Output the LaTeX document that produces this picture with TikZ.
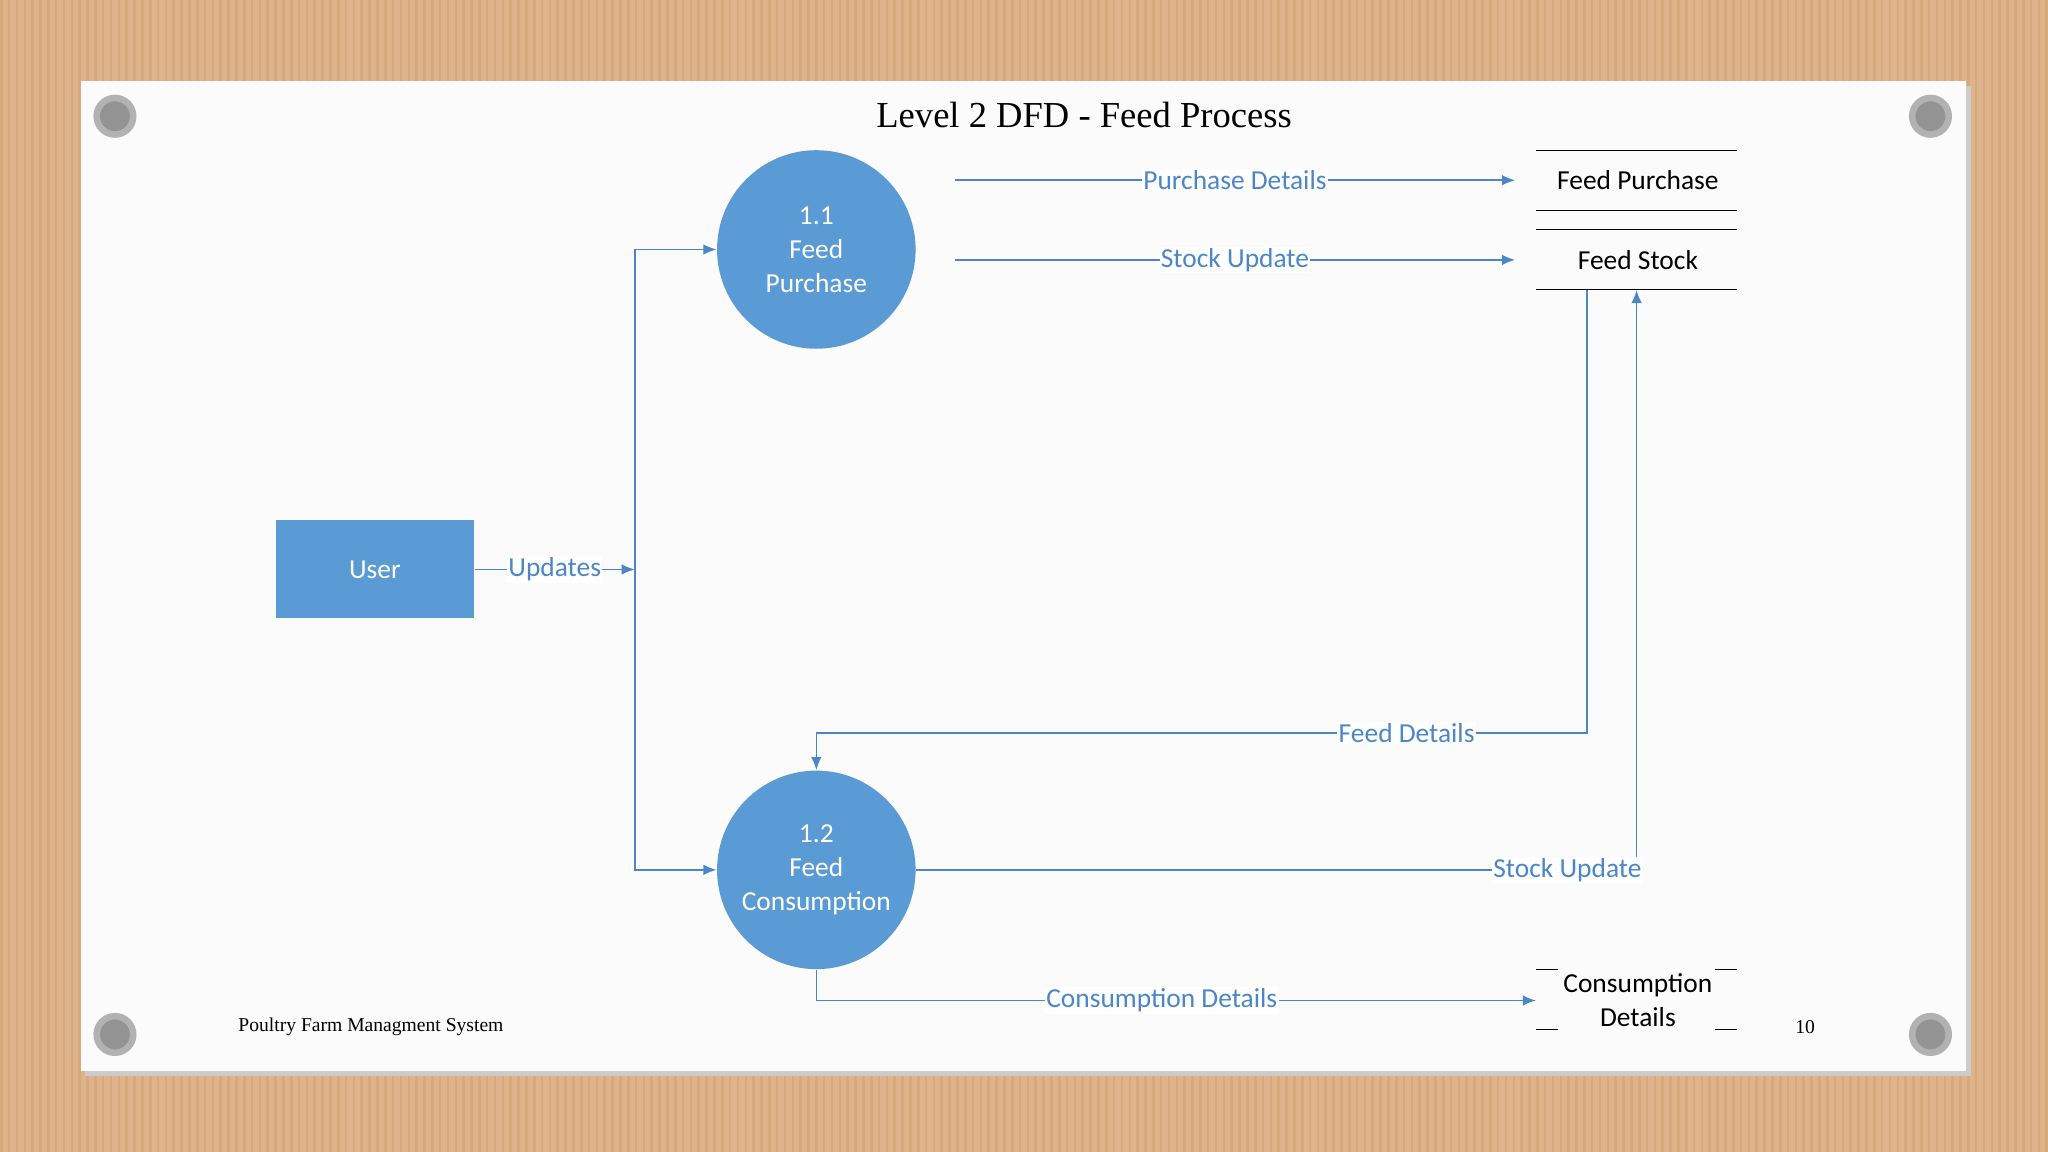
\documentclass[tikz,border=0pt]{standalone}
\usepackage{fontspec}
\setmainfont{Carlito}
\newfontfamily\serifx{Liberation Serif}
\usetikzlibrary{arrows.meta}
\definecolor{bl}{HTML}{5B9BD5}
\definecolor{ln}{HTML}{4A86C8}
\definecolor{wood}{HTML}{DDB48C}
\begin{document}
\begin{tikzpicture}[x=0.5pt,y=-0.5pt,
 proc/.style={circle,fill=bl,text=white,minimum size=76pt,inner sep=0,align=center,font=\fontsize{10.5}{13}\selectfont},
 ent/.style={rectangle,fill=bl,text=white,minimum width=76pt,minimum height=37.5pt,font=\fontsize{10.5}{13}\selectfont},
 lbl/.style={fill=white,text=ln,inner sep=0.5pt,font=\fontsize{10.5}{13}\selectfont},
 st/.style={font=\fontsize{10.5}{13}\selectfont,align=center},
 flow/.style={ln,line width=0.6pt,-{Latex[length=5pt,width=4pt]}},
 pin/.style={circle,draw=gray!60,line width=2.5pt,fill=gray!85,minimum size=14pt,inner sep=0}]
\useasboundingbox (0,0) rectangle (1568,882);
\fill[wood] (0,0) rectangle (1568,882);
\foreach \i in {0,6,...,1566} \fill[wood!80!brown] (\i,0) rectangle (\i+2,882);
\fill[black!20] (65,66) rectangle (1509,824);
\fill[white!97!gray] (62,62) rectangle (1505,820);
\foreach \p in {(88,89),(1478,89),(88,792),(1478,792)} \node[pin] at \p {};
\node[font=\serifx\fontsize{14}{16}\selectfont] (title) at (830,88) {Level 2 DFD - Feed Process};
\node[font=\serifx\fontsize{7.5}{9}\selectfont] (foot) at (284,786) {Poultry Farm Managment System};
\node[font=\serifx\fontsize{7.5}{9}\selectfont] (pg) at (1382,786) {10};
\node[proc] (p1) at (625,191) {1.1\\Feed\\Purchase};
\node[proc] (p2) at (625,666) {1.2\\Feed\\Consumption};
\node[ent] (user) at (287,436) {User};
\node[st] (fp) at (1254,138) {Feed Purchase};
\node[st] (fs) at (1254,199) {Feed Stock};
\node[st] (cd) at (1254,766) {Consumption\\Details};
\draw (1176,115) -- (1330,115) (1176,161) -- (1330,161);
\draw (1176,176) -- (1330,176) (1176,222) -- (1330,222);
\draw (1176,742) -- (1193,742) (1313,742) -- (1330,742) (1176,788) -- (1193,788) (1313,788) -- (1330,788);
\coordinate (a1) at (731,138); \coordinate (a2) at (1160,138);
\coordinate (b1) at (731,199); \coordinate (b2) at (1160,199);
\draw[flow] (a1) -- node[lbl]{Purchase Details} (a2);
\draw[flow] (b1) -- node[lbl]{Stock Update} (b2);
\coordinate (j) at (486,436);
\draw[flow] (user.east) -- node[lbl]{Updates} (j);
\draw[flow] (j) |- (p1.west);
\draw[flow] (j) |- (p2.west);
\coordinate (fd) at (1215,222);
\draw[flow] (fd) |- node[lbl,pos=0.617]{Feed Details} (625,561) -- (p2.north);
\coordinate (su) at (1253,222);
\draw[flow] (p2.east) -| node[lbl,pos=0.452]{Stock Update} (su);
\coordinate (ce) at (1176,766);
\draw[flow] (p2.south) |- node[lbl,pos=0.74]{Consumption Details} (ce);
\end{tikzpicture}
\end{document}
